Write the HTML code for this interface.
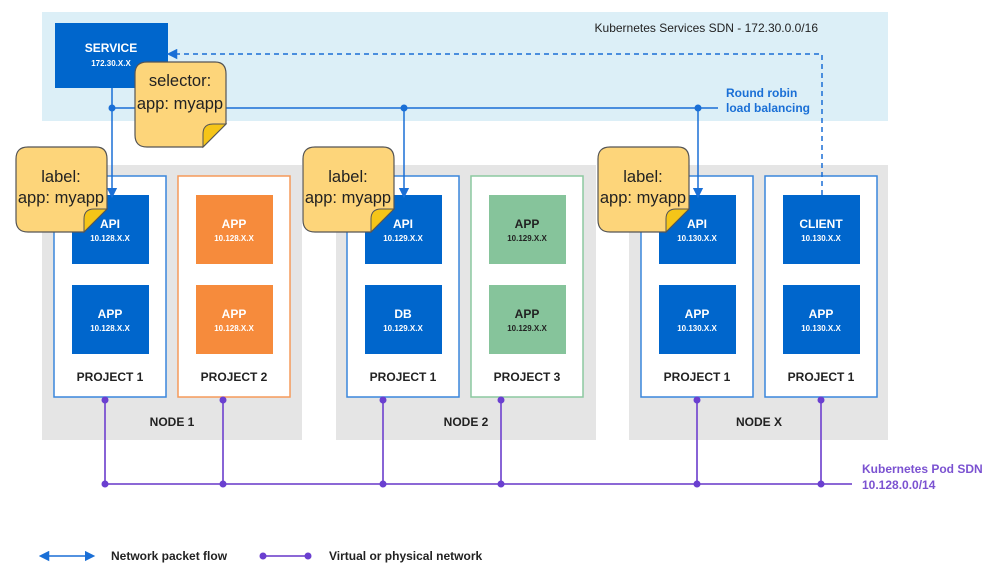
<!DOCTYPE html>
<html><head><meta charset="utf-8"><style>
html,body{margin:0;padding:0;background:#fff;}
svg{display:block;font-family:"Liberation Sans",sans-serif;}
.pt{font-weight:bold;font-size:12px;text-anchor:middle;fill:#fff}
.pi{font-size:8px;text-anchor:middle;fill:#fff;font-weight:bold}
.pl{font-weight:bold;font-size:12px;text-anchor:middle;fill:#222}
.nt{font-size:16.5px;text-anchor:middle;fill:#222}
</style></head><body>
<svg width="999" height="568" viewBox="0 0 999 568" xmlns="http://www.w3.org/2000/svg">
<defs>
<marker id="ab" viewBox="0 0 10 10" refX="5" refY="5" markerWidth="7" markerHeight="7" orient="auto-start-reverse"><path d="M0,0 L10,5 L0,10 z" fill="#1a6fd6"/></marker>
<g id="note">
<path d="M12,0 H80 Q91,0 91,12 V62 L68,85 H12 Q0,85 0,73 V12 Q0,0 12,0 Z" fill="#fdd57a" stroke="#555" stroke-width="1.2"/>
<path d="M91,62 L68,85 L68,72 Q68,62 78,62 Z" fill="#f5c518" stroke="#555" stroke-width="1"/>
</g>
</defs>
<rect x="42" y="12" width="846" height="109" fill="#dceff7"/>
<text x="818" y="32" font-size="12" text-anchor="end" fill="#222">Kubernetes Services SDN - 172.30.0.0/16</text>
<text x="726" y="97" font-size="12" font-weight="bold" fill="#1a6fd6">Round robin</text>
<text x="726" y="112" font-size="12" font-weight="bold" fill="#1a6fd6">load balancing</text>
<rect x="42" y="165" width="260" height="275" fill="#e5e5e5"/>
<rect x="336" y="165" width="260" height="275" fill="#e5e5e5"/>
<rect x="629" y="165" width="259" height="275" fill="#e5e5e5"/>
<text x="172" y="426" class="pl">NODE 1</text>
<text x="466" y="426" class="pl">NODE 2</text>
<text x="759" y="426" class="pl">NODE X</text>
<g stroke-width="1.5" fill="#fff">
<rect x="54" y="176" width="112" height="221" stroke="#3a86dc"/>
<rect x="178" y="176" width="112" height="221" stroke="#f59a5a"/>
<rect x="347" y="176" width="112" height="221" stroke="#3a86dc"/>
<rect x="471" y="176" width="112" height="221" stroke="#8cc9a0"/>
<rect x="641" y="176" width="112" height="221" stroke="#3a86dc"/>
<rect x="765" y="176" width="112" height="221" stroke="#3a86dc"/>
</g>
<text x="110" y="381" class="pl">PROJECT 1</text>
<text x="234" y="381" class="pl">PROJECT 2</text>
<text x="403" y="381" class="pl">PROJECT 1</text>
<text x="527" y="381" class="pl">PROJECT 3</text>
<text x="697" y="381" class="pl">PROJECT 1</text>
<text x="821" y="381" class="pl">PROJECT 1</text>
<g fill="#0066cc">
<rect x="72" y="195" width="77" height="69"/><rect x="72" y="285" width="77" height="69"/>
<rect x="365" y="195" width="77" height="69"/><rect x="365" y="285" width="77" height="69"/>
<rect x="659" y="195" width="77" height="69"/><rect x="659" y="285" width="77" height="69"/>
<rect x="783" y="195" width="77" height="69"/><rect x="783" y="285" width="77" height="69"/>
</g>
<rect x="196" y="195" width="77" height="69" fill="#f68b3c"/><rect x="196" y="285" width="77" height="69" fill="#f68b3c"/>
<rect x="489" y="195" width="77" height="69" fill="#86c49b"/><rect x="489" y="285" width="77" height="69" fill="#86c49b"/>
<text x="110" y="228" class="pt">API</text><text x="110" y="241" class="pi">10.128.X.X</text>
<text x="110" y="318" class="pt">APP</text><text x="110" y="331" class="pi">10.128.X.X</text>
<text x="234" y="228" class="pt">APP</text><text x="234" y="241" class="pi">10.128.X.X</text>
<text x="234" y="318" class="pt">APP</text><text x="234" y="331" class="pi">10.128.X.X</text>
<text x="403" y="228" class="pt">API</text><text x="403" y="241" class="pi">10.129.X.X</text>
<text x="403" y="318" class="pt">DB</text><text x="403" y="331" class="pi">10.129.X.X</text>
<text x="527" y="228" class="pt" style="fill:#222">APP</text><text x="527" y="241" class="pi" style="fill:#222">10.129.X.X</text>
<text x="527" y="318" class="pt" style="fill:#222">APP</text><text x="527" y="331" class="pi" style="fill:#222">10.129.X.X</text>
<text x="697" y="228" class="pt">API</text><text x="697" y="241" class="pi">10.130.X.X</text>
<text x="697" y="318" class="pt">APP</text><text x="697" y="331" class="pi">10.130.X.X</text>
<text x="821" y="228" class="pt">CLIENT</text><text x="821" y="241" class="pi">10.130.X.X</text>
<text x="821" y="318" class="pt">APP</text><text x="821" y="331" class="pi">10.130.X.X</text>
<rect x="55" y="23" width="113" height="65" fill="#0066cc"/>
<text x="111" y="52" class="pt">SERVICE</text><text x="111" y="66" class="pi">172.30.X.X</text>
<g stroke="#1a6fd6" stroke-width="1.5" fill="none">
<line x1="112" y1="88" x2="112" y2="193" marker-end="url(#ab)"/>
<line x1="112" y1="108" x2="718" y2="108"/>
<line x1="404" y1="108" x2="404" y2="193" marker-end="url(#ab)"/>
<line x1="698" y1="108" x2="698" y2="193" marker-end="url(#ab)"/>
<path d="M822,195 V54 H172" stroke-dasharray="5,4" marker-end="url(#ab)"/>
</g>
<g fill="#1a6fd6"><circle cx="112" cy="108" r="3.5"/><circle cx="404" cy="108" r="3.5"/><circle cx="698" cy="108" r="3.5"/></g>
<g stroke="#7b52d1" stroke-width="1.8" fill="none">
<line x1="105" y1="484" x2="852" y2="484"/>
<line x1="105" y1="400" x2="105" y2="484"/>
<line x1="223" y1="400" x2="223" y2="484"/>
<line x1="383" y1="400" x2="383" y2="484"/>
<line x1="501" y1="400" x2="501" y2="484"/>
<line x1="697" y1="400" x2="697" y2="484"/>
<line x1="821" y1="400" x2="821" y2="484"/>
<line x1="263" y1="556" x2="308" y2="556"/>
</g>
<g fill="#6a3fd0">
<circle cx="105" cy="400" r="3.5"/><circle cx="223" cy="400" r="3.5"/><circle cx="383" cy="400" r="3.5"/><circle cx="501" cy="400" r="3.5"/><circle cx="697" cy="400" r="3.5"/><circle cx="821" cy="400" r="3.5"/>
<circle cx="105" cy="484" r="3.5"/><circle cx="223" cy="484" r="3.5"/><circle cx="383" cy="484" r="3.5"/><circle cx="501" cy="484" r="3.5"/><circle cx="697" cy="484" r="3.5"/><circle cx="821" cy="484" r="3.5"/>
<circle cx="263" cy="556" r="3.5"/><circle cx="308" cy="556" r="3.5"/>
</g>
<text x="862" y="473" font-size="12" font-weight="bold" fill="#7b52d1">Kubernetes Pod SDN</text>
<text x="862" y="489" font-size="12" font-weight="bold" fill="#7b52d1">10.128.0.0/14</text>
<line x1="44" y1="556" x2="90" y2="556" stroke="#1a6fd6" stroke-width="1.5" marker-start="url(#ab)" marker-end="url(#ab)"/>
<text x="111" y="560" font-size="12" font-weight="bold" fill="#222">Network packet flow</text>
<text x="329" y="560" font-size="12" font-weight="bold" fill="#222">Virtual or physical network</text>
<use href="#note" x="135" y="62"/>
<text x="180" y="86" class="nt">selector:</text><text x="180" y="109" class="nt">app: myapp</text>
<use href="#note" x="16" y="147"/>
<text x="61" y="182" class="nt">label:</text><text x="61" y="203" class="nt">app: myapp</text>
<use href="#note" x="303" y="147"/>
<text x="348" y="182" class="nt">label:</text><text x="348" y="203" class="nt">app: myapp</text>
<use href="#note" x="598" y="147"/>
<text x="643" y="182" class="nt">label:</text><text x="643" y="203" class="nt">app: myapp</text>
</svg>
</body></html>
